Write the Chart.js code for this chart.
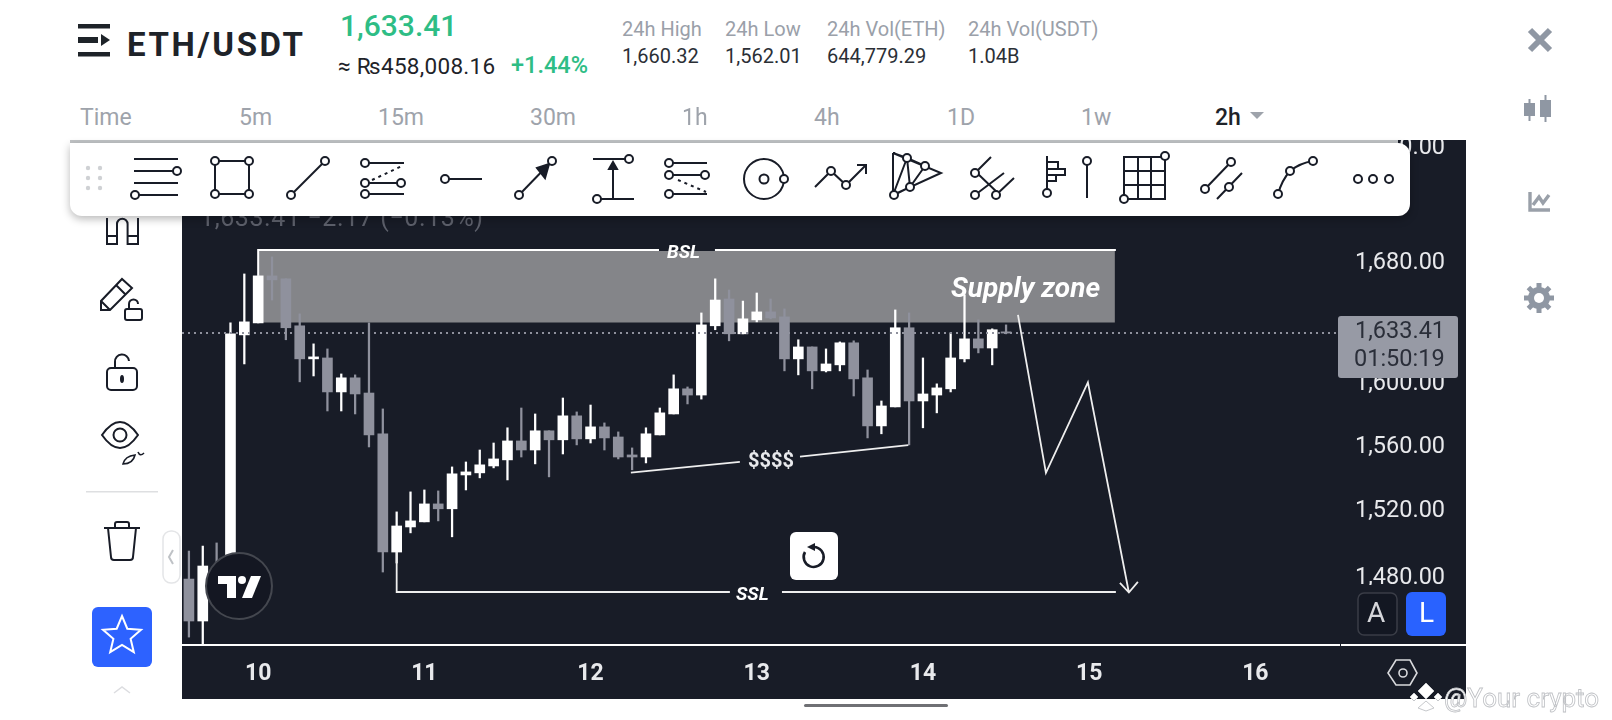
<!DOCTYPE html>
<html>
<head>
<meta charset="utf-8">
<title>ETH/USDT</title>
<script src="https://cdn.jsdelivr.net/npm/chart.js@4"></script>
<style>
  html, body { margin: 0; padding: 0; background: #fff; width: 1612px; height: 720px; overflow: hidden; font-family: Roboto, sans-serif; }
  #panel { position: absolute; left: 182px; top: 140px; width: 1284px; height: 559px; background: #181c27; }
  #chart { position: absolute; left: 0; top: 0; }
  .t { position: absolute; white-space: nowrap; transform: translateY(-50%); line-height: 1; }
  .gray { color: #9aa0a9; font-size: 20px; }
  .val { color: #2b2f36; font-size: 20px; }
  .tf { color: #9ea3ab; font-size: 23px; }
  .note { color: #fff; font-weight: 700; font-style: italic; }
  svg { position: absolute; left: 0; top: 0; }
  .ic { fill: none; stroke: #181c27; stroke-width: 2; }
  .ic circle { fill: #fff; }
  #strip { position: absolute; left: 70px; top: 140px; width: 1328px; height: 5px; background: #c0c3c5; }
  #toolbar { position: absolute; left: 70px; top: 143px; width: 1340px; height: 73px; background: #fff; border-radius: 0 12px 12px 12px; box-shadow: 0 3px 8px rgba(0,0,0,.28); }
  #pricebox { position: absolute; left: 1338px; top: 316px; width: 120px; height: 62px; background: #979aa5; border-radius: 3px; }
</style>
</head>
<body>
<div id="panel"><canvas id="chart" width="1284" height="559"></canvas></div>
<div id="axisTail" style="position:absolute;left:1341px;top:644px;width:125px;height:2px;background:#fff"></div>
<div id="commaCut" style="position:absolute;left:1355px;top:585px;width:92px;height:7px;background:#181c27"></div>

<div class="t" style="left:200px;top:217px;font-size:25px;color:#5d606b;letter-spacing:.6px">1,633.41 &#8722;2.17 (&#8722;0.13%)</div>

<div id="pricebox"></div>
<div class="t" style="left:1355px;top:331px;font-size:23.5px;color:#2a2e39">1,633.41</div>
<div class="t" style="left:1354px;top:359px;font-size:23.5px;color:#2a2e39">01:50:19</div>

<div class="t note" style="left:951px;top:288px;font-size:28px">Supply zone</div>
<div class="t note" style="left:667px;top:251px;font-size:19px">BSL</div>
<div class="t note" style="left:736px;top:593px;font-size:19px">SSL</div>
<div class="t note" style="left:748px;top:460px;font-size:20px;font-style:normal;color:#e8e9ec">$$$$</div>

<div id="strip"></div>
<div id="toolbar"></div>

<!-- header -->
<div class="t" style="left:127px;top:44px;font-size:33px;font-weight:700;color:#1e2329;letter-spacing:2.6px">ETH/USDT</div>
<div class="t" style="left:340px;top:26px;font-size:30px;font-weight:500;color:#2ebd85">1,633.41</div>
<div class="t" style="left:338px;top:66px;font-size:22.5px;color:#1e2329;letter-spacing:.3px">&#8776; &#8360;458,008.16</div>
<div class="t" style="left:511px;top:66px;font-size:23.5px;font-weight:500;color:#2ebd85">+1.44%</div>
<div class="t gray" style="left:622px;top:29px">24h High</div>
<div class="t val" style="left:622px;top:56px">1,660.32</div>
<div class="t gray" style="left:725px;top:29px">24h Low</div>
<div class="t val" style="left:725px;top:56px">1,562.01</div>
<div class="t gray" style="left:827px;top:29px">24h Vol(ETH)</div>
<div class="t val" style="left:827px;top:56px">644,779.29</div>
<div class="t gray" style="left:968px;top:29px">24h Vol(USDT)</div>
<div class="t val" style="left:968px;top:56px">1.04B</div>

<div class="t tf" style="left:80px;top:117px">Time</div>
<div class="t tf" style="left:239px;top:117px">5m</div>
<div class="t tf" style="left:378px;top:117px">15m</div>
<div class="t tf" style="left:530px;top:117px">30m</div>
<div class="t tf" style="left:682px;top:117px">1h</div>
<div class="t tf" style="left:814px;top:117px">4h</div>
<div class="t tf" style="left:947px;top:117px">1D</div>
<div class="t tf" style="left:1081px;top:117px">1w</div>
<div class="t tf" style="left:1215px;top:117px;color:#1e2329;font-weight:500">2h</div>

<svg width="1612" height="720" viewBox="0 0 1612 720">
  <!-- header menu icon -->
  <g fill="#1e2329">
    <rect x="78" y="24" width="32" height="4.5"/><rect x="78" y="37" width="20" height="6"/>
    <polygon points="101,34 110,40 101,46"/><rect x="78" y="52" width="32" height="4.5"/>
  </g>
  <polygon points="1250,112 1264,112 1257,119" fill="#9ea3ab"/>

  <!-- right column -->
  <path d="M1530 30L1550 50M1550 30L1530 50" stroke="#8f97a3" stroke-width="6" fill="none"/>
  <g fill="#8f97a3">
    <rect x="1524" y="103" width="11" height="13"/><rect x="1528.5" y="99" width="2" height="22"/>
    <rect x="1540" y="100" width="11" height="17"/><rect x="1544.5" y="95" width="2" height="27"/>
  </g>
  <path d="M1530 192V210H1550M1533 205L1539 197L1543 203L1549 195" stroke="#9aa0a9" stroke-width="3.4" fill="none"/>
  <g fill="#8f97a3">
    <circle cx="1539" cy="298" r="11"/>
    <g stroke="#8f97a3" stroke-width="5">
      <path d="M1539 283V313M1524 298H1554M1528.4 287.4L1549.6 308.6M1549.6 287.4L1528.4 308.6"/>
    </g>
  </g>
  <circle cx="1539" cy="298" r="5" fill="#fff"/>

  <!-- toolbar grip -->
  <g fill="#cfd1d4">
    <circle cx="88" cy="168" r="2.2"/><circle cx="100" cy="168" r="2.2"/>
    <circle cx="88" cy="178" r="2.2"/><circle cx="100" cy="178" r="2.2"/>
    <circle cx="88" cy="188" r="2.2"/><circle cx="100" cy="188" r="2.2"/>
  </g>

  <!-- toolbar drawing tools -->
  <g class="ic">
    <path d="M134 159H178M134 171H173M134 183H178M139 195H178"/><circle cx="177" cy="171" r="4"/><circle cx="135" cy="195" r="4"/>
    <path d="M215 161H249V194H215Z"/><circle cx="215" cy="161" r="4"/><circle cx="249" cy="161" r="4"/><circle cx="215" cy="194" r="4"/><circle cx="249" cy="194" r="4"/>
    <path d="M291 195L325 161"/><circle cx="291" cy="195" r="4"/><circle cx="325" cy="161" r="4"/>
    <path d="M365 163H404M365 183H401M365 194H404"/><path d="M372 180L402 166" stroke-dasharray="3 4"/><circle cx="365" cy="163" r="4"/><circle cx="365" cy="183" r="4"/><circle cx="401" cy="183" r="4"/><circle cx="365" cy="194" r="4"/>
    <path d="M445 179H482"/><circle cx="445" cy="179" r="4"/>
    <path d="M519 195L552 161"/><polygon points="537,168 549,164 545,178" fill="#181c27"/><circle cx="519" cy="195" r="4"/><circle cx="552" cy="161" r="4"/>
    <path d="M593 159H627M598 199H634M613 199V166"/><polygon points="613,162 609,169 617,169" fill="#181c27"/><circle cx="629" cy="159" r="4"/><circle cx="597" cy="199" r="4"/>
    <path d="M669 163H707M669 175H703M669 194H707"/><path d="M678 180L706 192" stroke-dasharray="3 4"/><circle cx="669" cy="163" r="4"/><circle cx="669" cy="175" r="4"/><circle cx="705" cy="175" r="4"/><circle cx="669" cy="194" r="4"/>
    <circle cx="764" cy="179" r="20"/><circle cx="764" cy="179" r="4.5"/><circle cx="784" cy="179" r="4"/>
    <path d="M815 187L831 171L846 185L866 165M857 165H866V174"/><circle cx="831" cy="171" r="4"/><circle cx="846" cy="185" r="4"/>
    <path d="M893 153V195L941 173L893 153L907 158L925 166L910 187L894 195M907 158L910 187M907 158L893 195"/><circle cx="894" cy="195" r="4"/><circle cx="907" cy="158" r="4"/><circle cx="925" cy="166" r="4"/><circle cx="910" cy="187" r="4"/>
    <path d="M975 173L991 157M977 173L1000 195M975 195L1004 173M996 195L1014 178"/><circle cx="975" cy="173" r="4"/><circle cx="975" cy="195" r="4"/><circle cx="996" cy="195" r="4"/>
    <path d="M1047 156V191M1047 162H1058V169H1047M1047 169H1065V175H1047M1047 175H1056V181H1047"/><circle cx="1047" cy="193" r="4"/>
    <path d="M1087 165V198"/><circle cx="1087" cy="161" r="4"/>
    <path d="M1124 157H1165V199H1124ZM1138 157V199M1151 157V199M1124 171H1165M1124 185H1165"/><circle cx="1165" cy="156" r="4"/><circle cx="1124" cy="199" r="4"/>
    <path d="M1205 189L1231 162M1217 199L1242 173"/><circle cx="1231" cy="162" r="4"/><circle cx="1205" cy="189" r="4"/><circle cx="1229" cy="187" r="4"/>
    <path d="M1278 194Q1282 180 1290 171Q1300 163 1313 161"/><circle cx="1278" cy="194" r="4"/><circle cx="1290" cy="171" r="4"/><circle cx="1313" cy="161" r="4"/>
    <circle cx="1358" cy="179" r="4"/><circle cx="1373" cy="179" r="4"/><circle cx="1389" cy="179" r="4"/>
  </g>

  <!-- left column -->
  <g class="ic">
    <path d="M107 218V244H117V224A5.3 5.3 0 0 1 127.6 224V244H138V218M107 236H117M127.6 236H138"/>
    <path d="M101 310V301L122 279L132 288L110 310ZM101 301L110 310M116 285L126 295"/>
    <rect x="125" y="309" width="17" height="11" rx="2"/><path d="M129 309V304A4.5 4.5 0 0 1 138 304"/>
    <rect x="107" y="368" width="30" height="22" rx="4"/><path d="M115 368V362A7 7 0 0 1 129 361"/>
    <path d="M102 435Q120 409 138 435Q120 461 102 435Z"/><circle cx="120" cy="435" r="6.5"/>
    <path d="M123 464Q125 456 135 455Q133 464 123 464ZM138 452Q140 457 144 453" stroke-width="1.6"/>
    <path d="M104 528H140M115 527V524Q115 522 117 522H127Q129 522 129 524V527M108 528L111 557Q111 560 114 560H130Q133 560 133 557L136 528"/>
  </g>
  <ellipse cx="122" cy="379" rx="2" ry="4" fill="#181c27"/>
  <rect x="86" y="491" width="72" height="1.5" fill="#dedfe1"/>
  <rect x="163" y="531" width="17" height="52" rx="8" fill="#fff" stroke="#e4e5e7" stroke-width="1.5"/>
  <path d="M173 550L169 557L173 564" fill="none" stroke="#bfc2c6" stroke-width="2"/>
  <rect x="92" y="607" width="60" height="60" rx="6" fill="#2d62ff"/>
  <polygon points="122,616 127.3,628.7 141,629.8 130.6,638.8 133.8,652.2 122,645 110.2,652.2 113.4,638.8 103,629.8 116.7,628.7" fill="none" stroke="#fff" stroke-width="2"/>
  <path d="M114 693L122 687L130 693" fill="none" stroke="#dcdde0" stroke-width="1.5"/>

  <!-- tradingview badge -->
  <circle cx="239" cy="586" r="33" fill="#141722" stroke="#44474f" stroke-width="2"/>
  <polygon points="218,576 236,576 236,598 227,598 227,584 218,584" fill="#fff"/>
  <circle cx="242" cy="580" r="4" fill="#fff"/>
  <polygon points="251,576 261,576 252,598 242,598" fill="#fff"/>

  <!-- reset button -->
  <rect x="790" y="532" width="48" height="48" rx="6" fill="#fff"/>
  <path d="M814 547A10 10 0 1 1 805 552" fill="none" stroke="#181c27" stroke-width="2.6"/>
  <polygon points="815,543 815,551 807,547" fill="#181c27"/>

  <!-- scale buttons -->
  <rect x="1358" y="593" width="39" height="42" rx="6" fill="#131722" stroke="#3a3d47" stroke-width="1.5"/>
  <rect x="1406" y="592" width="40" height="44" rx="6" fill="#2962ff"/>

  <!-- chart settings + watermark logo -->
  <polygon points="1388,673 1396,660 1410,660 1417,673 1410,685 1396,685" fill="none" stroke="#d8d9dc" stroke-width="1.6"/>
  <circle cx="1403" cy="673" r="4" fill="none" stroke="#d8d9dc" stroke-width="1.6"/>
  <g fill="#fff" stroke="#c6c8cb" stroke-width="1">
    <polygon points="1426,683 1434,691 1426,699 1418,691"/>
    <polygon points="1414,693 1418,697 1414,701 1410,697"/>
    <polygon points="1438,693 1442,697 1438,701 1434,697"/>
    <polygon points="1426,701 1434,708 1426,711 1418,708"/>
  </g>
</svg>

<div class="t" style="left:1367px;top:613px;font-size:28px;color:#d5d6da">A</div>
<div class="t" style="left:1419px;top:613px;font-size:28px;color:#fff">L</div>
<div class="t" style="left:1444px;top:698px;font-size:26px;color:#fff;-webkit-text-stroke:.8px #bfc1c5">@Your crypto</div>
<div style="position:absolute;left:804px;top:704px;width:144px;height:3px;background:#6f7074;border-radius:2px"></div>

<script>
// 2h candles
const opens  = [1479.2,1454.4,1481.6,1475.7,1632.2,1640.1,1671.5,1669.5,1638.2,1616.5,1617.1,1595.1,1604.2,1594.4,1568.4,1495.4,1510.6,1513.7,1524.7,1521.7,
                1542.6,1543.9,1548.2,1552,1563.9,1558.2,1570.3,1564.6,1579.8,1565.2,1572.8,1566.4,1555.1,1553.8,1567.7,1581,1597.1,1593.1,1638.2,1656,
                1632.9,1642.1,1647.4,1644.1,1616.5,1624.3,1608.7,1612.6,1627,1604.2,1573.4,1585.5,1636.9,1589.3,1593.1,1597.1,1616.5,1629.6,1623.6,1634.2];
const highs  = [1496,1499,1500.9,1640.1,1672.8,1671.5,1684.3,1669.5,1646.1,1626.3,1623,1606.7,1606.1,1640.1,1584.2,1519.8,1532.1,1533.3,1532.7,1547.6,
                1550.7,1558.2,1562.6,1572.2,1584.8,1581,1570.3,1591.2,1582.3,1586.7,1575.3,1569.6,1559.5,1572.2,1584.8,1606.1,1598.3,1646.7,1669.5,1662,
                1654.6,1660,1656,1649.4,1629,1624.3,1623,1627.6,1628.3,1609.3,1589.3,1648.7,1646.7,1617.1,1600.3,1633.6,1658.7,1642.1,1636.2,1638.8];
const lows   = [1445,1440.3,1466.7,1470,1613.2,1640.1,1655.3,1629,1601.6,1605.4,1582.9,1582.9,1581,1560.1,1483.4,1488.8,1507,1513.7,1514.3,1504.6,
                1533.3,1540.8,1547,1539.5,1553.8,1549.5,1541.4,1555.7,1561.4,1562.6,1558.2,1552.6,1545.8,1550.1,1567.7,1581,1587.4,1590.5,1635.6,1628.3,
                1632.9,1640.8,1642.8,1608.7,1606.1,1597.1,1608,1608.7,1592.5,1565.8,1568.4,1585.5,1561.4,1572.2,1581.7,1595.1,1614.5,1620.4,1612.6,1632.9];
const closes = [1454.4,1487,1469.7,1632.9,1640.8,1671.5,1668.8,1636.9,1616.5,1617.8,1595.1,1604.2,1593.8,1567.7,1495.4,1511.2,1514.3,1524.7,1521.7,1543.3,
                1544.5,1548.9,1552.6,1563.9,1558.2,1570.3,1564.6,1579.8,1565.2,1572.8,1565.8,1553.8,1553.8,1568.4,1581.7,1597.1,1593.1,1638.8,1655.3,1632.9,
                1642.8,1647.4,1643.4,1616.5,1624.3,1608.7,1613.2,1627,1603.5,1573.4,1586.1,1636.9,1589.3,1593.8,1597.7,1617.1,1629.6,1623.6,1635.6,1633.41];

// axis ticks
const priceTicks = [1760, 1680, 1600, 1560, 1520, 1480];
const priceLabels = ['1,760.00', '1,680.00', '1,600.00', '1,560.00', '1,520.00', '1,480.00'];
const dayTicks = [5, 17, 29, 41, 53, 65, 77];
const dayLabels = ['10', '11', '12', '13', '14', '15', '16'];
const lastPrice = 1633.41;

// drawings on the chart, x in candle numbers, y in price
const zoneX = [5, 66.86];
const zoneTop = [1688.3, 1688.3];
const zoneBottom = 1640.3;
const lastPriceX = [-0.5, 82.96];
const bslX = [5, 5, 33.94, 36, 37.98, 66.93];
const bslY = [1671.5, 1689, 1689, null, 1689, 1689];
const sslX = [15, 15, 39.06, 41, 42.82, 66.93];
const sslY = [1495.4, 1471.5, 1471.5, null, 1471.5, 1471.5];
const cashX = [31.91, 39.78, 42, 44.12, 51.94];
const cashY = [1544.1, 1550.7, null, 1554, 1561.2];
const pathX = [59.86, 61.88, 64.91, 67.87, 67.87, 67.22, 67.87, 68.52];
const pathY = [1645.4, 1543.9, 1601.3, 1471.2, null, 1476.9, 1471.2, 1477.5];

const WHITE = '#ffffff';
const GRAY = '#8f919d';
const candleColors = closes.map((c, i) => c > opens[i] ? WHITE : GRAY);

function drawing(xs, ys, extra) {
  return Object.assign({
    type: 'line',
    data: xs.map((x, i) => ({ x: x, y: ys[i] })),
    borderColor: '#eeeeee',
    borderWidth: 1.8,
    pointRadius: 0,
    tension: 0,
    spanGaps: false,
    order: 1
  }, extra);
}

new Chart(document.getElementById('chart').getContext('2d'), {
  type: 'bar',
  data: {
    datasets: [
      drawing(zoneX, zoneTop, { borderWidth: 0, backgroundColor: '#848589', fill: { value: zoneBottom }, order: 5 }),
      {
        label: 'wick',
        data: highs.map((h, i) => ({ x: i, y: [lows[i], h] })),
        backgroundColor: candleColors,
        barThickness: 1.6,
        grouped: false,
        order: 4
      },
      {
        label: 'body',
        data: opens.map((o, i) => ({ x: i, y: [o, closes[i]] })),
        backgroundColor: candleColors,
        barThickness: 10,
        grouped: false,
        order: 3
      },
      drawing(lastPriceX, lastPriceX.map(() => lastPrice), { borderColor: '#8f919d', borderWidth: 2, borderDash: [2, 4], order: 2 }),
      drawing(bslX, bslY, { borderWidth: 2, borderColor: '#ffffff' }),
      drawing(sslX, sslY),
      drawing(cashX, cashY),
      drawing(pathX, pathY)
    ]
  },
  options: {
    responsive: false,
    animation: false,
    layout: { padding: 0 },
    plugins: { legend: { display: false }, tooltip: { enabled: false } },
    scales: {
      x: {
        type: 'linear',
        offset: false,
        min: -0.5,
        max: 83.04,
        grid: { display: false, drawTicks: false, offset: false },
        border: { display: true, color: '#ffffff', width: 2 },
        afterBuildTicks: (axis) => { axis.ticks = dayTicks.map((v) => ({ value: v })); },
        afterFit: (axis) => { axis.height = 54; axis.paddingLeft = 0; axis.paddingRight = 0; },
        ticks: {
          autoSkip: false,
          maxRotation: 0,
          padding: 15,
          color: '#e8e9ec',
          font: { family: 'Roboto', size: 23, weight: '700' },
          callback: (v) => dayLabels[dayTicks.indexOf(v)]
        }
      },
      y: {
        type: 'logarithmic',
        position: 'right',
        min: 1440.4,
        max: 1765.6,
        grid: { display: false, drawTicks: false },
        border: { display: false },
        afterBuildTicks: (axis) => { axis.ticks = priceTicks.map((v) => ({ value: v })); },
        afterFit: (axis) => { axis.width = 127; axis.paddingTop = 0; axis.paddingBottom = 0; },
        ticks: {
          autoSkip: false,
          padding: 16,
          color: '#e8e9ec',
          font: { family: 'Roboto', size: 23.5 },
          callback: (v) => priceLabels[priceTicks.indexOf(v)]
        }
      }
    }
  }
});
</script>
</body>
</html>
